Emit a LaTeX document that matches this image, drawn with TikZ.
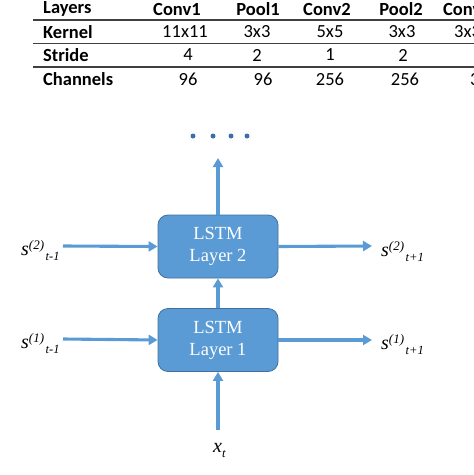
\documentclass[tikz,border=0pt]{standalone}
\usepackage{fontspec}
\setmainfont{Liberation Serif}
\newfontfamily\calib{Carlito}
\usetikzlibrary{arrows.meta}
\definecolor{lstmblue}{HTML}{5B9BD5}
\definecolor{lstmedge}{HTML}{41719C}
\definecolor{dotblue}{HTML}{3E6FA8}
\newcommand{\slab}[3]{#1\raisebox{6pt}{\fontsize{13}{13}\selectfont(#2)}\hspace{1.5pt}\raisebox{-5pt}{\fontsize{12.5}{13}\selectfont #3}}
\begin{document}
\begin{tikzpicture}[x=1pt,y=-1pt,
  hdr/.style={font=\calib\fontsize{18.5}{18.5}\selectfont\bfseries, inner sep=0pt, anchor=center},
  cell/.style={font=\calib\fontsize{18.5}{18.5}\selectfont, inner sep=0pt, anchor=center},
  rowlbl/.style={font=\calib\fontsize{18.5}{18.5}\selectfont\bfseries, inner sep=0pt, anchor=west},
  thickrule/.style={line width=1.8pt, draw=black!75},
  thinrule/.style={line width=0.9pt, draw=black!75},
  lstm/.style={draw=lstmedge, fill=lstmblue, rounded corners=10pt, line width=0.8pt,
    minimum width=120pt, minimum height=63pt, text=white, align=center,
    font=\fontsize{18.5}{22}\selectfont, inner sep=0pt},
  flow/.style={draw=lstmblue, line width=3.1pt, -{Triangle[length=9pt,width=10pt]}},
  lbl/.style={font=\fontsize{20}{20}\selectfont\itshape, inner sep=0pt},
  dotmark/.style={circle, fill=dotblue, inner sep=0pt, minimum width=4pt, minimum height=5pt}
]
\useasboundingbox (0,0) rectangle (474,475);
% table
\node[rowlbl] (hL) at (43,9) {Layers};
\node[hdr] (h1) at (177,9) {Conv1};
\node[hdr] (h2) at (258,9) {Pool1};
\node[hdr] (h3) at (327,9) {Conv2};
\node[hdr] (h4) at (401,9) {Pool2};
\node[hdr, anchor=west] (h5) at (443,9) {Conv3};
\node[rowlbl] (kL) at (43,32) {Kernel};
\node[cell] (k1) at (185,32) {11x11};
\node[cell] (k2) at (257,32) {3x3};
\node[cell] (k3) at (330,32) {5x5};
\node[cell] (k4) at (402,32) {3x3};
\node[cell, anchor=west] (k5) at (454,32) {3x3};
\node[rowlbl] (sL) at (43,55) {Stride};
\node[cell] (s1) at (188,55) {4};
\node[cell] (s2) at (257,55) {2};
\node[cell] (s3) at (330,55) {1};
\node[cell] (s4) at (403,55) {2};
\node[cell] (s5) at (479,55) {1};
\node[rowlbl] (cL) at (43,79) {Channels};
\node[cell] (c1) at (188,79) {96};
\node[cell] (c2) at (263,79) {96};
\node[cell] (c3) at (330,79) {256};
\node[cell] (c4) at (405,79) {256};
\node[cell, anchor=west] (c5) at (470,79) {384};
\draw[thickrule] (33,20) -- (474,20);
\draw[thinrule] (33,43.5) -- (474,43.5);
\draw[thickrule] (33,67) -- (474,67);
% LSTM diagram
\node[lstm] (L2) at (218,246.5) {LSTM\\Layer 2};
\node[lstm] (L1) at (218,340) {LSTM\\Layer 1};
\coordinate (top) at (218,158);
\node[dotmark] (d1) at (193,136) {};
\node[dotmark] (d2) at (213,136) {};
\node[dotmark] (d3) at (231,136) {};
\node[dotmark] (d4) at (247,136) {};
\node[lbl, anchor=base west] (s2in) at (21,255) {\slab{s}{2}{t-1}};
\node[lbl, anchor=base west] (s2out) at (381,256) {\slab{s}{2}{t+1}};
\node[lbl, anchor=base west] (s1in) at (21,348) {\slab{s}{1}{t-1}};
\node[lbl, anchor=base west] (s1out) at (381,349) {\slab{s}{1}{t+1}};
\node[lbl, anchor=base west] (xt) at (213,452) {x\raisebox{-5pt}{\fontsize{12.5}{13}\selectfont t}};
\coordinate (xin) at (218,430);
\draw[flow] (L2.north) -- (top);
\draw[flow] (L1.north) -- (L2.south);
\draw[flow] (xin) -- (L1.south);
\draw[flow] (63,246) -- (L2.west);
\draw[flow] (L2.east) -- (372,246);
\draw[flow] (63,339) -- (L1.west);
\draw[flow] (L1.east) -- (372,340);
\end{tikzpicture}
\end{document}
